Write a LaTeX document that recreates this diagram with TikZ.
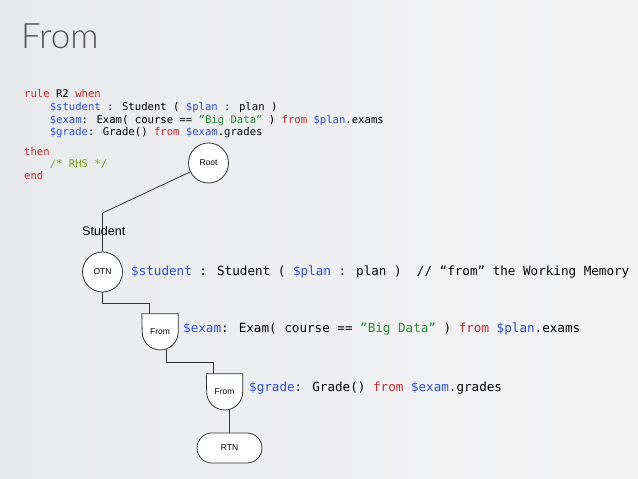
\documentclass[tikz,border=0pt]{standalone}
\usepackage{fontspec}
\setmainfont{Liberation Sans}
\newfontfamily\mono{DejaVu Sans Mono}
\newfontfamily\titlefont{Lato Light}
\usetikzlibrary{shapes.misc}
\definecolor{kw}{HTML}{C0282D}
\definecolor{vr}{HTML}{2F4FCF}
\definecolor{strc}{HTML}{2E8B3A}
\definecolor{cmtc}{HTML}{86A023}
\definecolor{ln}{HTML}{333333}
\definecolor{titlegray}{HTML}{555555}
\definecolor{bgl}{HTML}{E9EAEC}
\definecolor{bgr}{HTML}{F4F4F5}
\newcommand{\kwd}[1]{\textcolor{kw}{#1}}
\newcommand{\varn}[1]{\textcolor{vr}{#1}}
\newcommand{\strg}[1]{\textcolor{strc}{#1}}
\newcommand{\cmnt}[1]{\textcolor{cmtc}{#1}}
\pgfdeclarelayer{back}
\pgfdeclarelayer{bg}
\pgfdeclarelayer{mid}
\pgfsetlayers{back,bg,mid,main}
\tikzset{
  codesmall/.style={anchor=base west, inner sep=0pt, font=\mono\fontsize{10.6}{12}\selectfont},
  codebig/.style={anchor=base west, inner sep=0pt, font=\mono\fontsize{12.6}{14}\selectfont},
  circ/.style={circle, draw=ln, fill=white, line width=0.8pt, minimum size=40pt, inner sep=0pt, font=\fontsize{8.5}{10}\selectfont},
  fromn/.style={rectangle, minimum width=36pt, minimum height=36pt, inner sep=0pt, font=\fontsize{8.5}{10}\selectfont},
  rtnn/.style={rounded rectangle, draw=ln, fill=white, line width=0.8pt, minimum width=65pt, minimum height=30pt, inner sep=0pt, font=\fontsize{8.5}{10}\selectfont},
  dshape/.style={draw=ln, fill=white, line width=0.8pt},
  conn/.style={draw=ln, line width=0.8pt}
}
\begin{document}
\begin{tikzpicture}[x=1pt,y=1pt]
\begin{pgfonlayer}{back}
\shade[left color=bgl, right color=bgr] (0,0) rectangle (638,479);
\end{pgfonlayer}
\useasboundingbox (0,0) rectangle (638,479);

% title
\node[anchor=base west, inner sep=0pt, font=\titlefont\fontsize{35}{35}\selectfont, text=titlegray] (title) at (21,430) {From};

% rule code
\node[codesmall] (c1) at (24,381) {\kwd{rule} R2 \kwd{when}};
\node[codesmall] (c2) at (49.6,368) {\varn{\$student} : Student ( \varn{\$plan} : plan )};
\node[codesmall] (c3) at (49.6,355.5) {\varn{\$exam}: Exam( course == \strg{”Big Data”} ) \kwd{from} \varn{\$plan}.exams};
\node[codesmall] (c4) at (49.6,343) {\varn{\$grade}: Grade() \kwd{from} \varn{\$exam}.grades};
\node[codesmall] (c5) at (24,323) {\kwd{then}};
\node[codesmall] (c6) at (49.6,311) {\cmnt{/* RHS */}};
\node[codesmall] (c7) at (24,299) {\kwd{end}};

% network nodes
\node[circ] (root) at (208.5,316) {Root};
\node[circ] (otn) at (102.5,207) {OTN};
\node[fromn] (f1) at (160,147) {From};
\node[fromn] (f2) at (224.5,87) {From};
\node[rtnn] (rtn) at (229.5,31) {RTN};

\begin{pgfonlayer}{mid}
\draw[dshape] (f1.north west) -- (f1.north east) -- (f1.east) arc[start angle=0, end angle=-180, radius=18pt] -- cycle;
\draw[dshape] (f2.north west) -- (f2.north east) -- (f2.east) arc[start angle=0, end angle=-180, radius=18pt] -- cycle;
\end{pgfonlayer}

% connectors
\coordinate (k1) at (102.5,266);
\coordinate (k2) at (149,176);
\coordinate (k3) at (166,117);
\coordinate (k4) at (213,117);
\begin{pgfonlayer}{bg}
\draw[conn] (root.206) -- (k1) -- (otn.north);
\draw[conn] (otn.south) |- (k2) -- (k2 |- f1.north);
\draw[conn] (k3 |- f1.center) -- (k3) -- (k4) -- (k4 |- f2.north);
\draw[conn] (rtn.north) -- (rtn.north |- f2.center);
\end{pgfonlayer}

\node[anchor=west, inner sep=0pt, font=\fontsize{12.5}{14}\selectfont] (stl) at (82,248) {Student};

% code beside nodes
\node[codebig] (l1) at (131,203.2) {\varn{\$student} : Student ( \varn{\$plan} : plan )\ \ // “from” the Working Memory};
\node[codebig] (l2) at (183,146.2) {\varn{\$exam}: Exam( course == \strg{”Big Data”} ) \kwd{from} \varn{\$plan}.exams};
\node[codebig] (l3) at (249,87.2) {\varn{\$grade}: Grade() \kwd{from} \varn{\$exam}.grades};
\end{tikzpicture}
\end{document}
